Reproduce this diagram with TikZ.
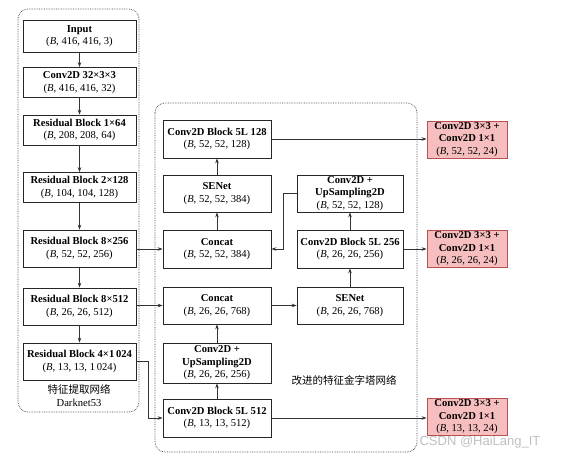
\documentclass[tikz,border=0pt]{standalone}
\usepackage{fontspec}
\setmainfont{Liberation Serif}
\newfontfamily\cjk{Noto Sans CJK SC}
\newfontfamily\wmfont{Liberation Sans}
\usetikzlibrary{arrows.meta}
\definecolor{redfill}{RGB}{246,190,190}
\definecolor{redline}{RGB}{185,80,80}
\tikzset{
  box/.style={draw=black!85, line width=0.8pt, fill=white, align=center, inner sep=1pt,
    font=\fontsize{10.6}{12.6}\selectfont},
  lbox/.style={box, minimum width=113pt},
  mbox/.style={box, minimum width=108pt},
  rbox/.style={box, minimum width=106pt},
  redbox/.style={box, draw=redline, fill=redfill, minimum width=80pt, minimum height=37pt},
  arr/.style={draw=black!80, line width=0.7pt, -{Stealth[length=5pt,width=3.6pt]}},
  cont/.style={draw=black!75, line width=0.7pt, densely dotted, rounded corners=10pt},
}
\newcommand{\bi}{\textit{B}}
\begin{document}
\begin{tikzpicture}[x=1pt,y=-1pt]
\useasboundingbox (0,0) rectangle (563,461);
% containers
\draw[cont] (18,9) rectangle (139,412);
\draw[cont] (155,103) rectangle (417,452);
% left column
\node[lbox, minimum height=32pt] (in) at (79.5,36) {\textbf{Input}\\(\bi, 416, 416, 3)};
\node[lbox, minimum height=30pt] (c1) at (79.5,82.5) {\textbf{Conv2D 32×3×3}\\(\bi, 416, 416, 32)};
\node[lbox, minimum height=30pt] (r1) at (79.5,130) {\textbf{Residual Block 1×64}\\(\bi, 208, 208, 64)};
\node[lbox, minimum height=30pt] (r2) at (79.5,187.5) {\textbf{Residual Block 2×128}\\(\bi, 104, 104, 128)};
\node[lbox, minimum height=37pt] (r3) at (79.5,248.5) {\textbf{Residual Block 8×256}\\(\bi, 52, 52, 256)};
\node[lbox, minimum height=37pt] (r4) at (79.5,306.5) {\textbf{Residual Block 8×512}\\(\bi, 26, 26, 512)};
\node[lbox, minimum height=37pt] (r5) at (79.5,361.5) {\textbf{Residual Block 4×1\,024}\\(\bi, 13, 13, 1\,024)};
\node[font=\cjk\fontsize{10.5}{12}\selectfont, inner sep=0pt] (t1) at (79,389) {特征提取网络};
\node[font=\fontsize{10.6}{12}\selectfont, inner sep=0pt] (t2) at (79,402.5) {Darknet53};
% middle left column
\node[mbox, minimum height=38pt] (b128) at (217,139) {\textbf{Conv2D Block 5L 128}\\(\bi, 52, 52, 128)};
\node[mbox, minimum height=37pt] (se52) at (217,193.5) {\textbf{SENet}\\(\bi, 52, 52, 384)};
\node[mbox, minimum height=38pt] (cc52) at (217,249) {\textbf{Concat}\\(\bi, 52, 52, 384)};
\node[mbox, minimum height=37pt] (cc26) at (217,305.5) {\textbf{Concat}\\(\bi, 26, 26, 768)};
\node[mbox, minimum height=40pt] (up26) at (217,363) {\textbf{Conv2D +}\\\textbf{UpSampling2D}\\(\bi, 26, 26, 256)};
\node[mbox, minimum height=38pt] (b512) at (217,418) {\textbf{Conv2D Block 5L 512}\\(\bi, 13, 13, 512)};
% middle right column
\node[rbox, minimum height=37pt] (up52) at (350,193.5) {\textbf{Conv2D +}\\\textbf{UpSampling2D}\\(\bi, 52, 52, 128)};
\node[rbox, minimum height=38pt] (b256) at (350,249) {\textbf{Conv2D Block 5L 256}\\(\bi, 26, 26, 256)};
\node[rbox, minimum height=37pt] (se26) at (350,305.5) {\textbf{SENet}\\(\bi, 26, 26, 768)};
\node[font=\cjk\fontsize{10.5}{12}\selectfont, inner sep=0pt] (t3) at (344,380) {改进的特征金字塔网络};
% red heads
\node[redbox] (h1) at (467,139.5) {\textbf{Conv2D 3×3 +}\\\textbf{Conv2D 1×1}\\(\bi, 52, 52, 24)};
\node[redbox] (h2) at (467,249) {\textbf{Conv2D 3×3 +}\\\textbf{Conv2D 1×1}\\(\bi, 26, 26, 24)};
\node[redbox] (h3) at (467,417) {\textbf{Conv2D 3×3 +}\\\textbf{Conv2D 1×1}\\(\bi, 13, 13, 24)};
% left column arrows
\draw[arr] (in) -- (c1);
\draw[arr] (c1) -- (r1);
\draw[arr] (r1) -- (r2);
\draw[arr] (r2) -- (r3);
\draw[arr] (r3) -- (r4);
\draw[arr] (r4) -- (r5);
% backbone to neck
\draw[arr] (r3.east |- cc52.west) -- (cc52.west);
\draw[arr] (r4.east |- cc26.west) -- (cc26.west);
\coordinate (k1) at (148,361.5);
\draw[arr] (r5.east) -- (k1) |- (b512.west);
% neck
\draw[arr] (b512) -- (up26);
\draw[arr] (up26) -- (cc26);
\draw[arr] (cc26) -- (se26);
\draw[arr] (se26) -- (b256);
\draw[arr] (b256) -- (up52);
\coordinate (k2) at (283,193.5);
\draw[arr] (up52.west) -- (k2) |- (cc52.east);
\draw[arr] (cc52) -- (se52);
\draw[arr] (se52) -- (b128);
% heads
\draw[arr] (b128.east) -- (b128.east -| h1.west);
\draw[arr] (b256.east) -- (b256.east -| h2.west);
\draw[arr] (b512.east) -- (b512.east -| h3.west);
% watermark
\node[font=\wmfont\fontsize{13}{14}\selectfont, text=black!25, inner sep=0pt] (wm) at (480,442) {CSDN @HaiLang\_IT};
\end{tikzpicture}
\end{document}
